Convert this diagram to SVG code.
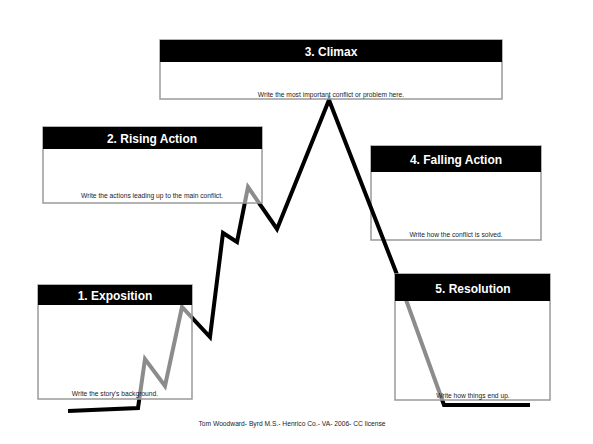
<svg xmlns="http://www.w3.org/2000/svg" width="593" height="444" viewBox="0 0 593 444">
<style>
.box{fill:#fff;fill-opacity:0.55;stroke:#9a9a9a;stroke-width:1.5}
.hdr{fill:#000}
.ht{font-family:"Liberation Sans",Arial,sans-serif;font-weight:bold;font-size:12px;fill:#fff;text-anchor:middle}
.bt{font-family:"Liberation Sans",Arial,sans-serif;font-size:6.7px;fill:#222;text-anchor:middle}
.plot{fill:none;stroke:#000;stroke-width:4;stroke-linejoin:miter;stroke-linecap:butt}
</style>
<rect width="593" height="444" fill="#fff"/>
<g id="falling-action">
<rect class="box" x="371" y="146" width="170" height="94"/>
<rect class="hdr" x="371" y="146" width="170" height="26"/>
<text class="ht" x="456" y="164">4. Falling Action</text>
<text class="bt" x="456" y="237">Write how the conflict is solved.</text>
</g>
<g id="connectors">
<polyline class="plot" points="68,411 138,408 145,359 165,386 182,307 210,337 223,233 237,242 248,187 277,229 329,100 396,272 444,405 530,405"/>
</g>
<g id="exposition">
<rect class="box" x="38" y="285" width="154" height="114"/>
<rect class="hdr" x="38" y="285" width="154" height="20"/>
<text class="ht" x="115" y="300">1. Exposition</text>
<text class="bt" x="115" y="396">Write the story's background.</text>
</g>
<g id="rising-action">
<rect class="box" x="43" y="127" width="219" height="76"/>
<rect class="hdr" x="43" y="127" width="219" height="22"/>
<text class="ht" x="152" y="143">2. Rising Action</text>
<text class="bt" x="152" y="198">Write the actions leading up to the main conflict.</text>
</g>
<g id="climax">
<rect class="box" x="160" y="40" width="342" height="59"/>
<rect class="hdr" x="160" y="40" width="342" height="22"/>
<text class="ht" x="331" y="56">3. Climax</text>
<text class="bt" x="331" y="97">Write the most important conflict or problem here.</text>
</g>
<g id="resolution">
<rect class="box" x="395" y="274" width="155" height="126"/>
<rect class="hdr" x="395" y="274" width="155" height="27"/>
<text class="ht" x="473" y="293">5. Resolution</text>
<text class="bt" x="473" y="398">Write how things end up.</text>
</g>
<text class="bt" x="292" y="426">Tom Woodward- Byrd M.S.- Henrico Co.- VA- 2006- CC license</text>
</svg>
